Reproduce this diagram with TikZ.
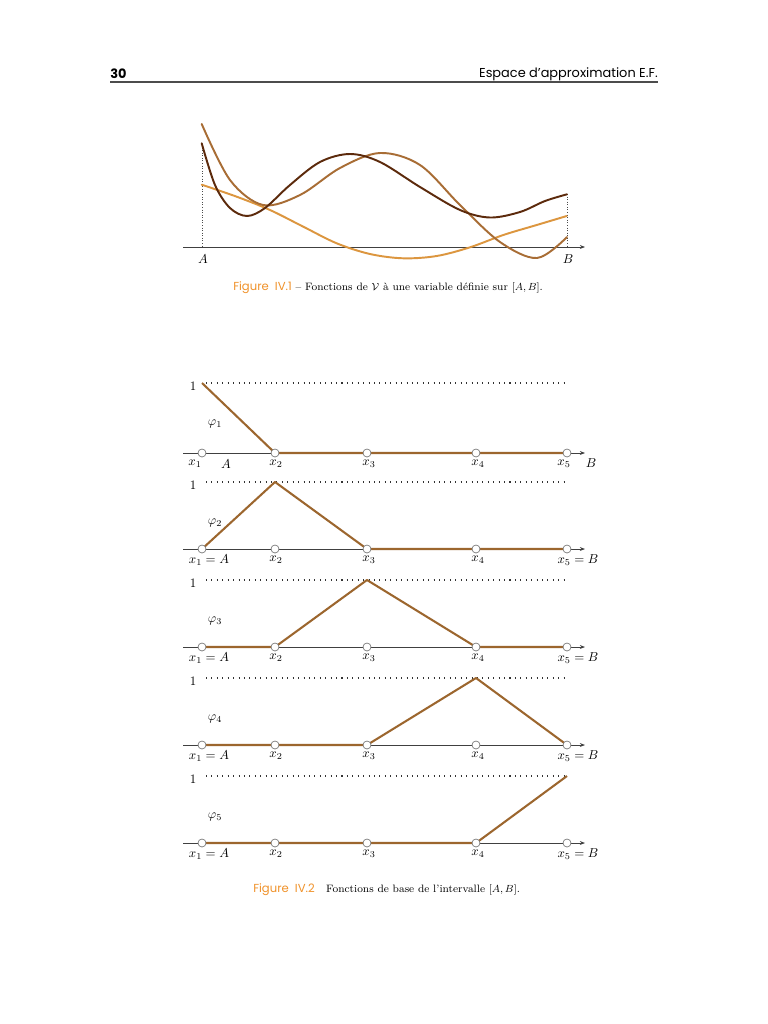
\documentclass[tikz,border=0pt]{standalone}
\usepackage{fontspec}
\newfontfamily\headfont{Poppins}
\usetikzlibrary{arrows.meta}
\definecolor{capor}{HTML}{F0922A}
\definecolor{cdark}{HTML}{5C2A0C}
\definecolor{cmed}{HTML}{A86D35}
\definecolor{clight}{HTML}{DC963F}
\definecolor{cbrown}{HTML}{9C662E}
\tikzset{
  axisline/.style={draw=black!75, line width=0.6pt, -{Stealth[length=4pt,width=3pt]}},
  curve/.style={line width=1.5pt, line cap=round, line join=round},
  vdots/.style={draw=black!70, line width=0.6pt, dash pattern=on 0.6pt off 1.4pt},
  oneline/.style={draw=black!80, line width=0.8pt, dash pattern=on 0.8pt off 3.4pt},
  basisf/.style={draw=cbrown, line width=1.6pt, line join=round},
  opendot/.style={circle, draw=black!55, fill=white, line width=0.5pt, inner sep=0pt, minimum size=6.2pt},
  lbl/.style={inner sep=0pt, font=\normalsize},
  caption/.style={inner sep=0pt, anchor=west, font=\fontsize{8.3}{10}\selectfont}
}
\begin{document}
\begin{tikzpicture}[x=0.775pt,y=-0.775pt]
\useasboundingbox[fill=white] (0,0) rectangle (768,1024);
% header
\node[inner sep=0pt, anchor=west, font=\headfont\bfseries] (pg) at (110,74) {30};
\node[inner sep=0pt, anchor=east, font=\headfont\normalsize] (hd) at (658,74) {Espace d’approximation E.F.};
\draw[black!70, line width=0.8pt] (110,82) -- (658,82);

% figure IV.1
\coordinate (fa) at (183,247);
\coordinate (fb) at (585,247);
\draw[axisline] (fa) -- (fb);
\draw[vdots] (202,145) -- (202,247);
\draw[vdots] (567,194) -- (567,247);
\node[lbl] (lA) at (203,259) {$A$};
\node[lbl] (lB) at (568,259) {$B$};
\draw[curve, clight] plot[smooth, tension=0.55] coordinates {(201.7,184.7) (236.7,196.7) (270,210) (303.3,226.7) (336.7,243.3) (370,254) (403.3,258.3) (436.7,256) (470,247.3) (503.3,235) (536.7,225) (566.7,216)};
\draw[curve, cmed] plot[smooth, tension=0.55] coordinates {(201.7,124) (230,180) (263,205) (300,195) (340,168) (380,153) (420,165) (460,205) (500,242) (537,258) (567,237)};
\draw[curve, cdark] plot[smooth, tension=0.55] coordinates {(201.7,143.3) (215,185) (230,208) (247,216) (265,208) (290,185) (320,162) (350,154) (380,162) (420,187) (460,210) (490,217.5) (520,212) (545,201) (567,194.3)};
\node[caption] (cap1) at (233,288) {{\headfont\color{capor}\small Figure\ \ IV.1} -- Fonctions de $\mathcal{V}$ à une variable définie sur $[A,B]$.};

% figure IV.2
\foreach \r/\yy/\yo in {1/453/383,2/549/482,3/647/580,4/745/678,5/843/776} {
  \draw[axisline] (183,\yy) -- (585,\yy);
  \draw[oneline] (206,\yo) -- (567,\yo);
  \node[lbl] (one\r) at (193,\yo+3) {1};
  \node[lbl] (phi\r) at (215,\yo+41) {$\varphi_{\r}$};
  \foreach \i/\xx in {1/202,2/275,3/367,4/476,5/567} {
    \coordinate (p\r-\i) at (\xx,\yy);
    \coordinate (t\r-\i) at (\xx,\yo);
  }
}
\draw[basisf] (t1-1) -- (p1-2) -- (p1-5);
\draw[basisf] (p2-1) -- (t2-2) -- (p2-3) -- (p2-5);
\draw[basisf] (p3-1) -- (p3-2) -- (t3-3) -- (p3-4) -- (p3-5);
\draw[basisf] (p4-1) -- (p4-3) -- (t4-4) -- (p4-5);
\draw[basisf] (p5-1) -- (p5-4) -- (t5-5);
\foreach \r/\yy in {1/453,2/549,3/647,4/745,5/843} {
  \foreach \i in {1,...,5} {
    \node[opendot] (n\r-\i) at (p\r-\i) {};
  }
  \foreach \i/\xx in {2/276,3/369,4/478} {
    \node[lbl] (x\r-\i) at (\xx,\yy+11) {$x_{\i}$};
  }
}
% row 1 end labels
\node[lbl] (x1-1) at (195,464) {$x_1$};
\node[lbl] (a1) at (226,464) {$A$};
\node[lbl] (x1-5) at (564,464) {$x_5$};
\node[lbl] (b1) at (591,463) {$B$};
\foreach \r/\yy in {2/549,3/647,4/745,5/843} {
  \node[lbl] (x\r-1) at (209,\yy+11) {$x_1 = A$};
  \node[lbl] (x\r-5) at (578,\yy+11) {$x_5 = B$};
}
\node[caption] (cap2) at (253,890) {{\headfont\color{capor}\small Figure\ \ IV.2}\ \ \ Fonctions de base de l'intervalle $[A,B]$.};
\end{tikzpicture}
\end{document}
